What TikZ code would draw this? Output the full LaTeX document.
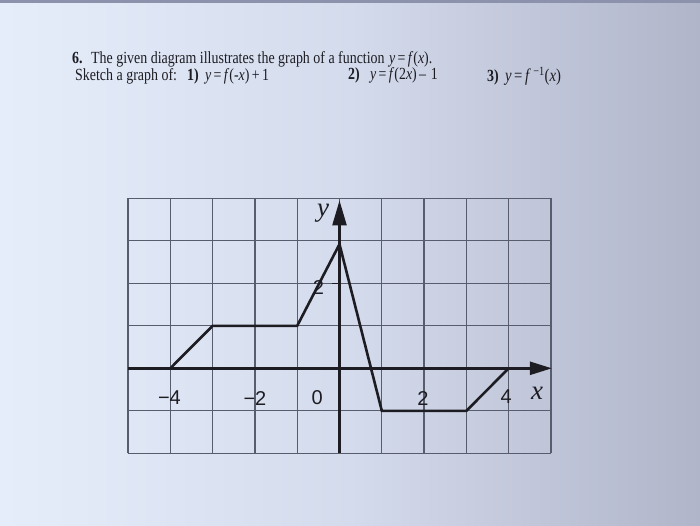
\documentclass[tikz,border=0pt]{standalone}
\usepackage{fontspec}
\setmainfont{Liberation Serif}
\newfontfamily\sansf{Liberation Sans}
\usetikzlibrary{arrows.meta}
\definecolor{paperL}{RGB}{230,237,250}
\definecolor{paperM}{RGB}{212,219,236}
\definecolor{paperR}{RGB}{176,181,201}
\definecolor{topedge}{RGB}{140,146,172}
\definecolor{ink}{RGB}{28,28,34}
\definecolor{gridc}{RGB}{88,93,110}
\newcommand{\hs}[1]{\scalebox{0.82}[1]{#1}}
\newcommand{\iv}[1]{\textit{#1}}
\begin{document}
\begin{tikzpicture}[x=1pt,y=1pt,
  title/.style={anchor=base west, inner sep=0pt, text=ink, font=\fontsize{17}{19}\selectfont},
  titleb/.style={title, font=\fontsize{17}{19}\selectfont\bfseries},
  tick/.style={text=ink, inner sep=0pt, font=\sansf\fontsize{20}{21}\selectfont},
  axlabel/.style={text=ink, inner sep=0pt, font=\fontsize{27}{28}\selectfont\itshape},
  gridline/.style={draw=gridc, line width=1.3pt},
  axis/.style={draw=ink, line width=2.4pt},
  curve/.style={draw=ink, line width=2.6pt, line join=miter}
]
\useasboundingbox (0,0) rectangle (700,525);
\shade[left color=paperL, right color=paperR, middle color=paperM] (0,0) rectangle (700,525);
\fill[topedge] (0,522) rectangle (700,525);

% title text
\node[titleb] (num) at (72,461) {\hs{6.}};
\node[title] (l1) at (91,461) {\hs{The given diagram illustrates the graph of a function}};
\node[title] (l1m) at (389,461) {\hs{\iv{y}\,=\,\iv{f}(\iv{x}).}};
\node[title] (l2) at (75,444) {\hs{Sketch a graph of:}};
\node[titleb] (p1l) at (187,444) {\hs{1)}};
\node[title] (p1m) at (205,444) {\hs{\iv{y}\,=\,\iv{f}(-\iv{x})\,+\,1}};
\node[titleb] (p2l) at (348,445) {\hs{2)}};
\node[title] (p2m) at (370,445) {\hs{\iv{y}\,=\,\iv{f}(2\iv{x})\,–\,\,1}};
\node[titleb] (p3l) at (487,443) {\hs{3)}};
\node[title, font=\fontsize{18}{20}\selectfont] (p3m) at (505,443) {\hs{\iv{y}\,=\,\iv{f}\,\textsuperscript{−1}(\iv{x})}};

\begin{scope}[shift={(339.5pt,156.7pt)}, x=42.3pt, y=42.5pt]
  \foreach \i in {-5,...,5} \draw[gridline] (\i,-2) -- (\i,4);
  \foreach \j in {-2,...,4} \draw[gridline] (-5,\j) -- (5,\j);
  \coordinate (xs) at (-5,0);
  \coordinate (xe) at (5.02,0);
  \coordinate (ys) at (0,-2);
  \coordinate (ye) at (0,3.95);
  \draw[axis, -{Triangle[length=22pt,width=13pt]}] (xs) -- (xe);
  \draw[axis, -{Triangle[length=25pt,width=14pt]}] (ys) -- (ye);
  \coordinate (c1) at (-4,0);
  \coordinate (c2) at (-3,1);
  \coordinate (c3) at (-1,1);
  \coordinate (c4) at (0,2.92);
  \coordinate (c5) at (1,-1);
  \coordinate (c6) at (3,-1);
  \coordinate (c7) at (4,0);
  \draw[curve] (c1) -- (c2) -- (c3) -- (c4) -- (c5) -- (c6) -- (c7);
  \coordinate (t0) at (-0.18,2);
  \coordinate (t1) at (0,2);
  \draw[ink, line width=1.2pt] (t0) -- (t1);
  \node[tick] (lm4) at (-4.02,-0.7) {−4};
  \node[tick] (lm2) at (-2.0,-0.7) {−2};
  \node[tick] (l0) at (-0.53,-0.68) {0};
  \node[tick] (lp2) at (1.97,-0.7) {2};
  \node[tick] (lp4) at (3.94,-0.66) {4};
  \node[tick] (ly2) at (-0.5,1.91) {2};
  \node[axlabel] (lx) at (4.67,-0.58) {x};
  \node[axlabel] (ly) at (-0.39,3.65) {y};
\end{scope}
\end{tikzpicture}
\end{document}
